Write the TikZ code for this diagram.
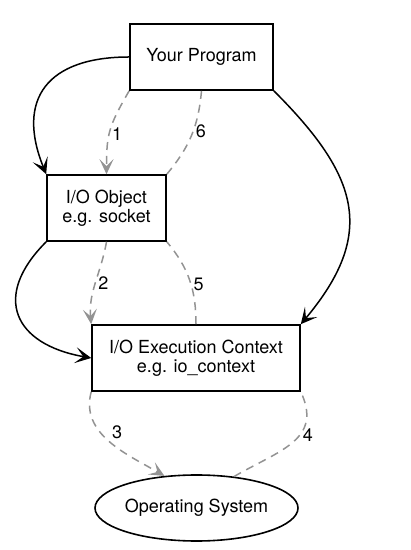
\documentclass[tikz,border=0pt]{standalone}
\usepackage{fontspec}
\setmainfont{TeX Gyre Heros}
\usetikzlibrary{shapes.geometric,arrows.meta}

\tikzset{
  block/.style={draw,line width=0.8pt,inner sep=0pt,minimum height=33pt,align=center,
    font=\fontsize{9}{9.6}\selectfont},
  calls/.style={line width=0.75pt,-{Stealth[length=8pt,width=8pt,inset=4pt]}},
  flow/.style={gray!85,dashed,dash pattern=on 4pt off 3pt,line width=0.75pt},
  flowto/.style={flow,-{Stealth[length=7.5pt,width=7pt,inset=3.5pt]}},
  num/.style={text=black,inner sep=1pt,font=\fontsize{9}{9.6}\selectfont},
}

\begin{document}
\begin{tikzpicture}[x=0.5pt,y=0.5pt]
      \useasboundingbox (0,0) rectangle (411,550);%

      \node[block,minimum width=71.5pt] (PROG) at (201.5,493) {Your Program};%
      \node[block,minimum width=59.5pt] (OBJ) at (106.5,342) {I/O Object\\e.g. socket};%
      \node[block,minimum width=104pt] (CTX) at (196,192) {I/O Execution Context\\e.g. io\_context};%
      \node[block,ellipse,minimum width=101.5pt] (OS) at (196.5,42) {Operating System};%

      \draw[calls] (PROG.west) to[out=180,in=112,looseness=1.45] (OBJ.north west);%
      \draw[calls] (OBJ.south west) to[out=225,in=170,looseness=1.6] (CTX.west);%
      \draw[calls] (PROG.south east) to[out=-45,in=50,looseness=1.3] (CTX.north east);%

      \draw[flowto] (PROG.south west) to[out=-120,in=90,looseness=1.2] node[num,pos=0.55,anchor=west] {1} (OBJ.north);%
      \draw[flow] (OBJ.north east) to[out=50,in=-95] node[num,pos=0.55,anchor=west] {6} (PROG.south);%
      \draw[flowto] (OBJ.south) to[out=-100,in=95] node[num,midway,anchor=west] {2} (CTX.north west);%
      \draw[flow] (CTX.north) to[out=90,in=-50] node[num,pos=0.45,anchor=west] {5} (OBJ.south east);%
      \draw[flowto] (CTX.south west) to[out=-105,in=150] node[num,midway,anchor=south west] {3} (OS.135);%
      \draw[flow] (OS.40) to[out=30,in=-65,looseness=1.25] node[num,pos=0.6,anchor=west] {4} (CTX.south east);%
    \end{tikzpicture}
\end{document}
